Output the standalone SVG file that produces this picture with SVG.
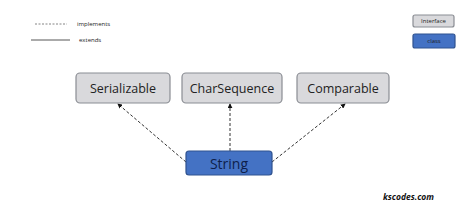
<svg xmlns="http://www.w3.org/2000/svg" width="474" height="224" viewBox="0 0 474 224">
<style>
.iface rect{fill:#d9d9dc;stroke:#8a8d93;stroke-width:1.2}
.cls rect{fill:#4472c4;stroke:#2f528f;stroke-width:1.2}
.lbl{font-family:"Open Sans","Liberation Sans",sans-serif;font-size:12.5px;fill:#222;text-anchor:middle;dominant-baseline:central}
.small{font-family:"Open Sans","Liberation Sans",sans-serif;font-size:6px;fill:#222;dominant-baseline:central}
.conn line{stroke:#333;stroke-width:1;stroke-dasharray:3 2;fill:none}
</style>
<defs>
<marker id="ah" viewBox="0 0 6 6" refX="5" refY="3" markerWidth="5" markerHeight="5" orient="auto">
<path d="M0,0 L6,3 L0,6 z" fill="#111"/>
</marker>
</defs>
<rect width="474" height="224" fill="#fff"/>
<g id="legend">
<line x1="35" y1="24" x2="67" y2="24" stroke="#666" stroke-width="0.8" stroke-dasharray="2 1.5"/>
<text class="small" x="77" y="24">implements</text>
<line x1="31" y1="40" x2="70" y2="40" stroke="#444" stroke-width="0.9"/>
<text class="small" x="79" y="40">extends</text>
</g>
<g id="legend-interface" class="iface">
<rect x="413" y="15" width="41" height="12" rx="2"/>
<text class="small" x="433.5" y="21" text-anchor="middle">Interface</text>
</g>
<g id="legend-class" class="cls">
<rect x="413" y="34" width="42" height="14" rx="2"/>
<text class="small" x="434" y="41" text-anchor="middle" fill="#0e1f4a">class</text>
</g>
<g id="connectors" class="conn">
<line x1="186" y1="162" x2="118" y2="104" marker-end="url(#ah)"/>
<line x1="230" y1="151" x2="230" y2="104" marker-end="url(#ah)"/>
<line x1="272" y1="162" x2="345" y2="104" marker-end="url(#ah)"/>
</g>
<g id="serializable" class="iface">
<rect x="76" y="73" width="94" height="30" rx="4"/>
<text class="lbl" x="123" y="88">Serializable</text>
</g>
<g id="charsequence" class="iface">
<rect x="182" y="73" width="100" height="30" rx="4"/>
<text class="lbl" x="232" y="88">CharSequence</text>
</g>
<g id="comparable" class="iface">
<rect x="297" y="73" width="92" height="30" rx="4"/>
<text class="lbl" x="343" y="88">Comparable</text>
</g>
<g id="string" class="cls">
<rect x="186" y="151" width="86" height="24" rx="3"/>
<text class="lbl" x="229" y="163" style="font-size:14px;fill:#0e1f4a">String</text>
</g>
<text x="383" y="196" font-family="'Open Sans','Liberation Sans',sans-serif" font-size="8.5" font-weight="bold" font-style="italic" fill="#111" dominant-baseline="central">kscodes.com</text>
</svg>
